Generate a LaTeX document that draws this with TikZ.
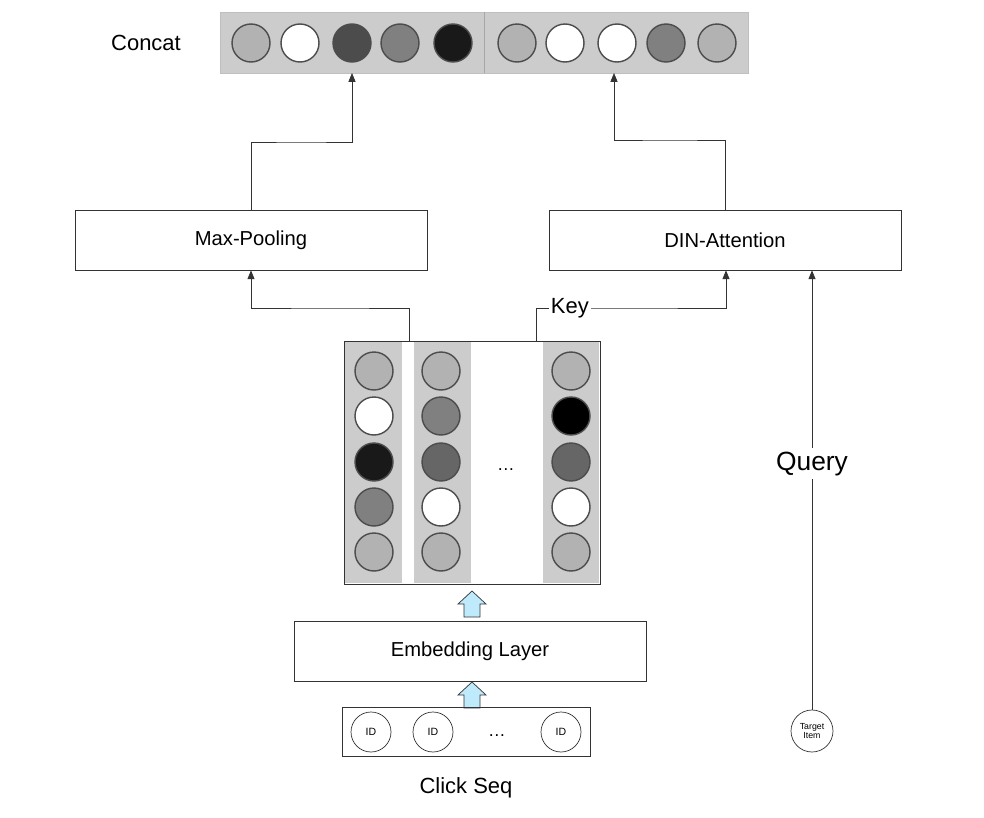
\documentclass[tikz,border=0pt]{standalone}
\usepackage{fontspec}
\setmainfont{Liberation Sans}
\usetikzlibrary{positioning, arrows.meta, shapes}

\begin{document}
\begin{tikzpicture}[
    x=0.02cm, y=-0.02cm,
    layer/.style={draw=black!80, fill=white, minimum width=7.04cm, minimum height=1.2cm, font=\fontsize{11.5}{13}\selectfont},
    strip/.style={fill=black!20, draw=none},
    cell/.style={circle, draw=black!70, thick, minimum size=0.76cm, inner sep=0pt},
    idcell/.style={circle, draw=black!80, minimum size=0.8cm, inner sep=0pt, font=\fontsize{6}{7}\selectfont},
    arrow/.style={-{Triangle[length=5pt, width=4pt]}, draw=black!80},
    blockarrow/.style={fill=cyan!25, draw=black!80},
    label/.style={font=\fontsize{12.5}{14}\selectfont}
]
\useasboundingbox (0,0) rectangle (984,818);

% Concat bar
\node[label] (concattxt) at (146,43) {Concat};
\filldraw[fill=black!20, draw=black!25] (220,12) rectangle (748,73);
\draw[black!35] (484,12) -- (484,73);
\coordinate (catl) at (352,73);
\coordinate (catr) at (614,73);
\foreach \x/\g [count=\i] in {251/30, 300/0, 352/70, 400/50, 453/90, 517/30, 565/0, 617/0, 666/50, 717/30}
    \node[cell, fill=black!\g] (cat\i) at (\x,43) {};

% Layers
\node[layer] (pool) at (251,240) {Max-Pooling};
\node[layer] (din) at (725,240) {DIN-Attention};

\draw[arrow] (pool.north) |- (301,142) -| (catl);
\draw[arrow] (din.north) |- (670,140) -| (catr);

% Embedding matrix
\filldraw[fill=white, draw=black!80] (344,341) rectangle (600,584);
\fill[strip] (345,342) rectangle (402,583);
\fill[strip] (414,342) rectangle (471,583);
\fill[strip] (543,342) rectangle (599,583);
\draw[black!80] (344,341) rectangle (600,584);
\coordinate (embl) at (409,341);
\coordinate (embr) at (536,341);
\foreach \y/\a/\b/\c [count=\i] in {371/30/30/30, 416/0/50/100, 462/90/60/60, 507/50/0/0, 552/30/30/30} {
    \node[cell, fill=black!\a] (ma\i) at (374,\y) {};
    \node[cell, fill=black!\b] (mb\i) at (441,\y) {};
    \node[cell, fill=black!\c] (mc\i) at (571,\y) {};
}
\node (mdots) at (506,470) {\dots};

\draw[arrow] (embl) |- (330,308) -| (pool.south);
\draw[arrow] (embr) |- node[pos=0.68, fill=white, inner sep=1pt, label] {Key} (630,308) -| ([xshift=0.02cm]pool.south -| 725,0);

% Embedding layer
\node[layer] (embed) at (470,651) {Embedding Layer};
\filldraw[blockarrow] (464,617) -- (464,604) -- (458,604) -- (472,591) -- (486,604) -- (480,604) -- (480,617) -- cycle;
\filldraw[blockarrow] (464,708) -- (464,695) -- (458,695) -- (472,682) -- (486,695) -- (480,695) -- (480,708) -- cycle;

% Click sequence
\node[draw=black!80, minimum width=4.96cm, minimum height=0.98cm] (seq) at (466,732) {};
\node[idcell] (id1) at (371,732) {ID};
\node[idcell] (id2) at (433,732) {ID};
\node[idcell] (id3) at (561,732) {ID};
\node (sdots) at (497,736) {\dots};
\node[label] (clicktxt) at (466,788) {Click Seq};

% Target item
\node[circle, draw=black!80, minimum size=0.84cm, inner sep=0pt, align=center, font=\fontsize{5}{5.5}\selectfont] (target) at (812,731) {Target\\Item};
\draw[arrow] (target.north) -- node[pos=0.56, fill=white, inner sep=2pt, font=\fontsize{15}{17}\selectfont] {Query} (din.south -| target.north);
\end{tikzpicture}
\end{document}
